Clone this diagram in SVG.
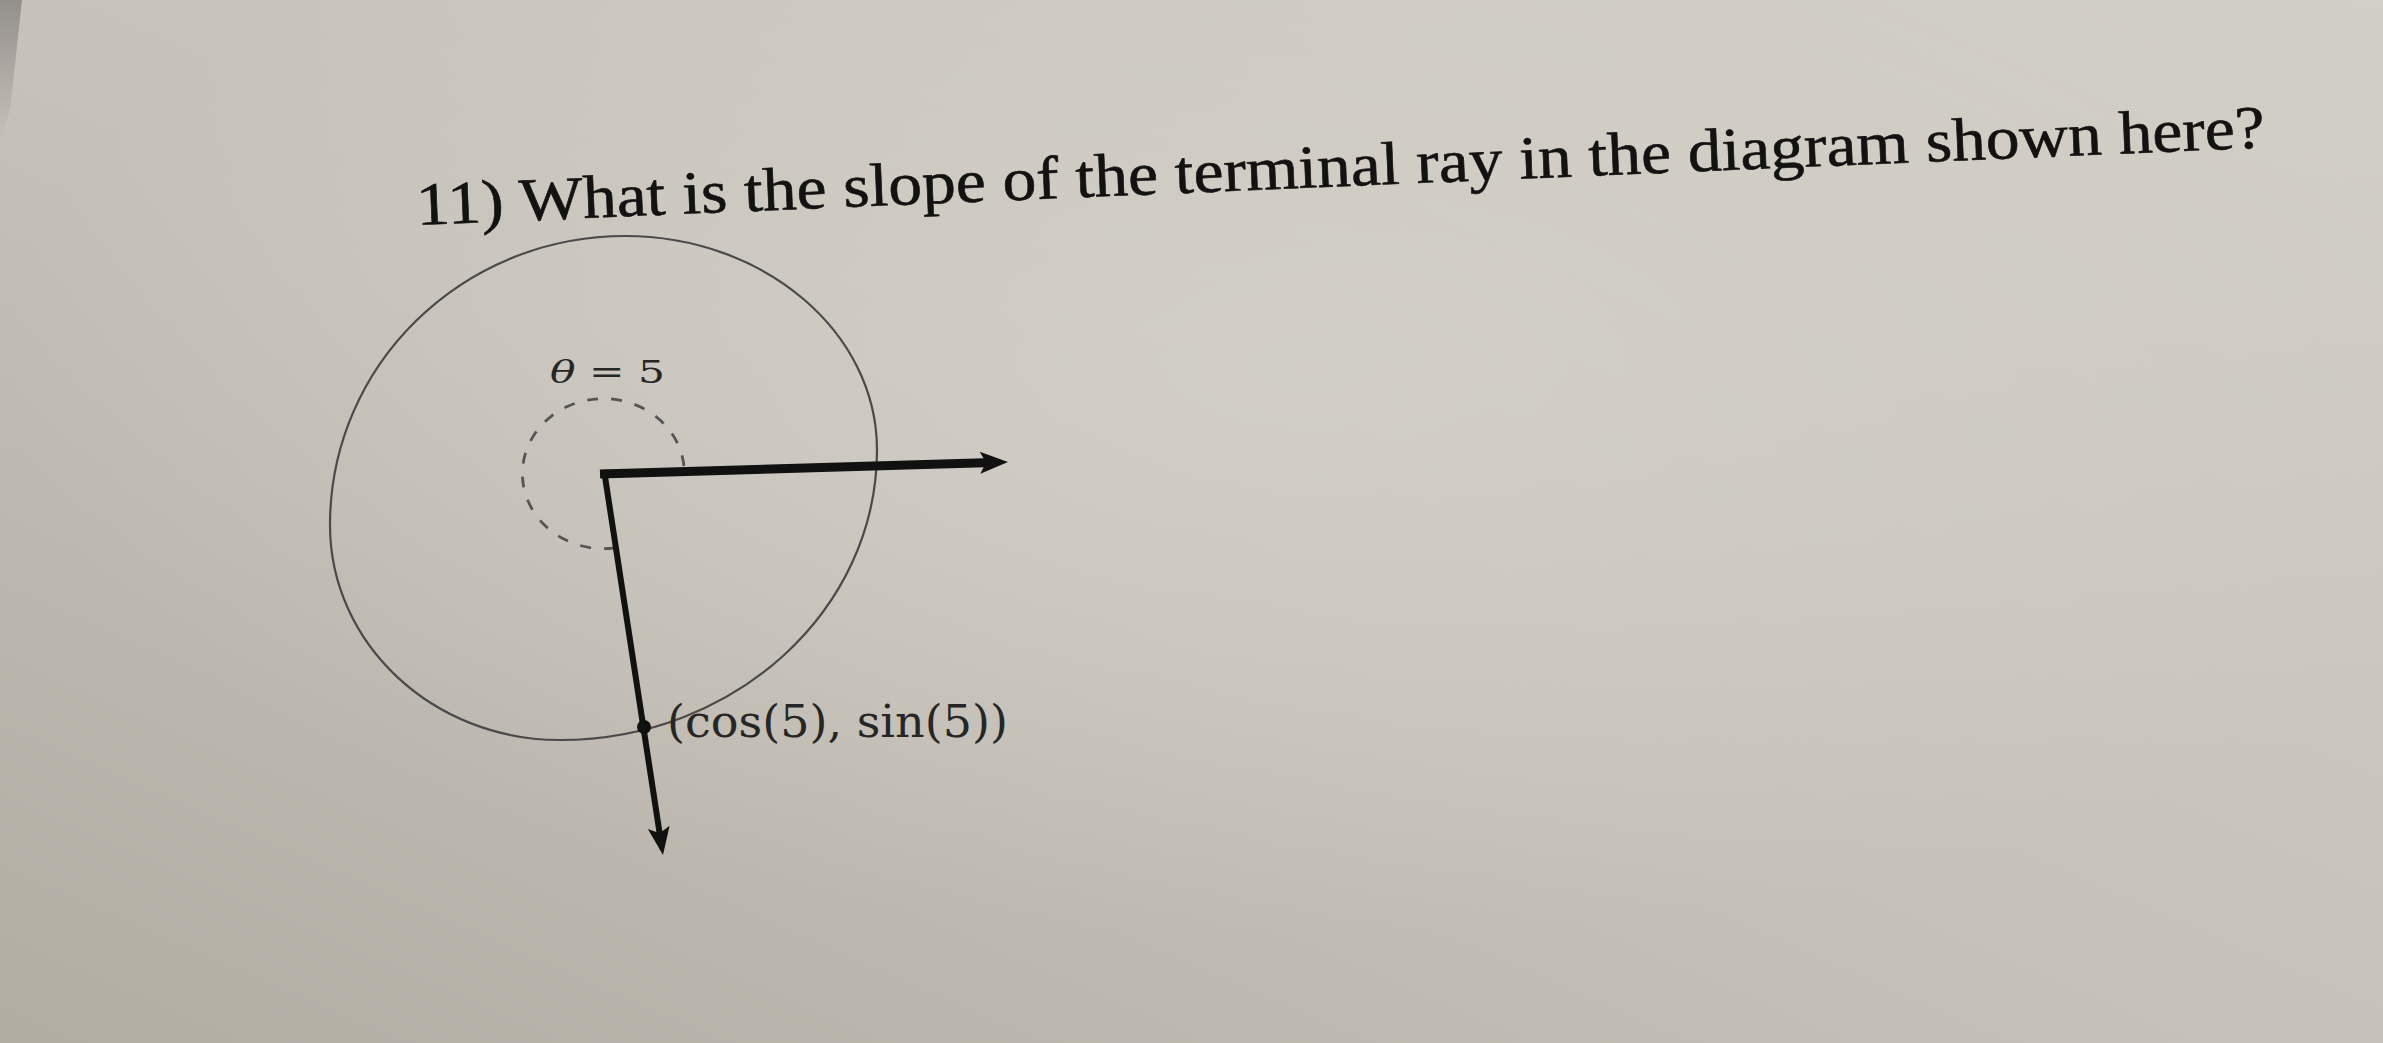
<svg xmlns="http://www.w3.org/2000/svg" width="2383" height="1043" viewBox="0 0 2383 1043">
  <style>
    .title { font-family: "Liberation Serif", "Times New Roman", serif; font-size: 61px; fill: #121212; stroke: #121212; stroke-width: 0.6; }
    .math { font-family: "DejaVu Serif", "Liberation Serif", serif; fill: #262626; }
    .circle { fill: none; stroke: #4a4a4a; stroke-width: 2.2; }
    .dash { fill: none; stroke: #555; stroke-width: 2.8; stroke-dasharray: 11 13; }
    .ray { fill: none; stroke: #111; stroke-linecap: butt; }
  </style>
  <defs>
    <linearGradient id="bg" x1="0" y1="1" x2="1" y2="0">
      <stop offset="0" stop-color="#b2aca3"/>
      <stop offset="0.45" stop-color="#c6c1b8"/>
      <stop offset="1" stop-color="#d2cfc7"/>
    </linearGradient>
    <radialGradient id="glow" cx="0.55" cy="0.35" r="0.55">
      <stop offset="0" stop-color="#d6d3cb" stop-opacity="0.7"/>
      <stop offset="1" stop-color="#d6d3cb" stop-opacity="0"/>
    </radialGradient>
    <linearGradient id="edge" x1="0" y1="0" x2="0" y2="1">
      <stop offset="0" stop-color="#8e8a85" stop-opacity="0.9"/>
      <stop offset="1" stop-color="#8e8a85" stop-opacity="0"/>
    </linearGradient>
    <marker id="ah" viewBox="-32 -12 34 24" refX="-15" refY="0" markerWidth="34" markerHeight="24" markerUnits="userSpaceOnUse" orient="auto">
      <path d="M0,0 L-28,-11 L-22,0 L-28,11 Z" fill="#111"/>
    </marker>
  </defs>

  <rect x="0" y="0" width="2383" height="1043" fill="url(#bg)"/>
  <rect x="0" y="0" width="2383" height="1043" fill="url(#glow)"/>
  <path d="M0,0 L22,0 L10,110 L0,140 Z" fill="url(#edge)"/>

  <g id="question">
    <text class="title" x="417" y="225" transform="rotate(-2.4 417 225)" textLength="1850" lengthAdjust="spacingAndGlyphs">11) What is the slope of the terminal ray in the diagram shown here?</text>
  </g>

  <g id="unit-circle">
    <path class="circle" d="M625,236 C764,236 877,332 877,450 C877,610 735,740 560,740 C433,740 330,644 330,525 C330,365 462,236 625,236 Z"/>
  </g>

  <g id="angle-arc">
    <path class="dash" d="M684,466 A81,75 0 1 0 614,548"/>
  </g>

  <g id="angle-label">
    <text class="math" x="550" y="383" font-size="32" textLength="115" lengthAdjust="spacingAndGlyphs"><tspan font-style="italic">θ</tspan> = 5</text>
  </g>

  <g id="connectors">
    <line class="ray" x1="600" y1="474" x2="993" y2="462.4" stroke-width="9" marker-end="url(#ah)"/>
    <line class="ray" x1="604" y1="470" x2="660.7" y2="840.2" stroke-width="6" marker-end="url(#ah)"/>
  </g>

  <g id="terminal-point">
    <circle cx="644" cy="727" r="7" fill="#111"/>
    <text class="math" x="667" y="737" font-size="44" textLength="341" lengthAdjust="spacingAndGlyphs">(cos(5), sin(5))</text>
  </g>
</svg>
